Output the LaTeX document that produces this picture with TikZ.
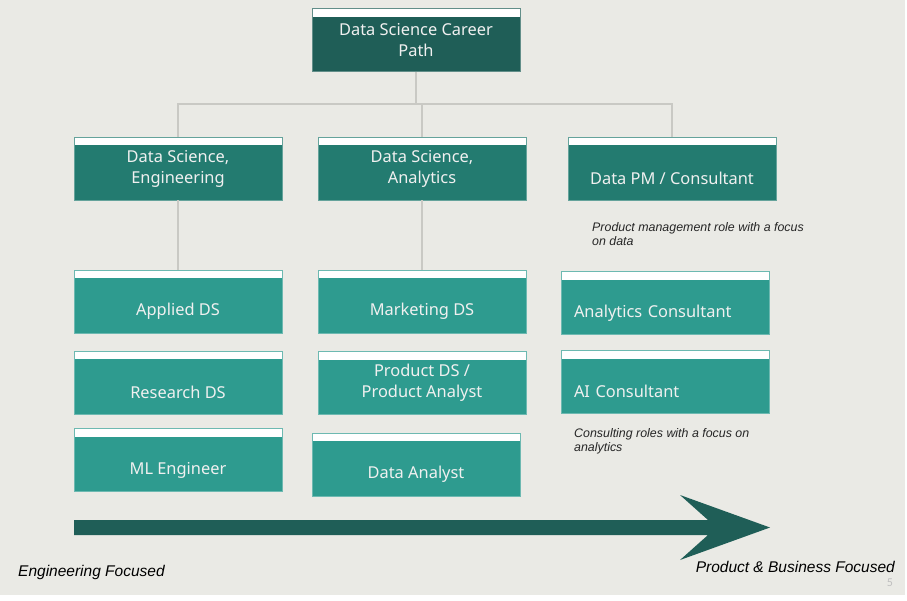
\documentclass[tikz,border=0pt]{standalone}
\usepackage{fontspec}
\setmainfont{Noto Sans}
\newfontfamily\notefont{Liberation Sans}
\newfontfamily\numfont{Carlito}
\definecolor{slidebg}{HTML}{EAEAE5}
\definecolor{darkteal}{HTML}{1F5E57}
\definecolor{midteal}{HTML}{237B70}
\definecolor{liteteal}{HTML}{2E9B8F}
\definecolor{wireclr}{HTML}{C9C9C4}
\tikzset{
	role/.style={rectangle,minimum width=208pt,minimum height=63pt,inner sep=3pt,
		align=center,text=white!94!black,font=\fontsize{16.4}{21}\selectfont,line width=0.8pt,
		path picture={\fill[white] (path picture bounding box.north west) rectangle
			([yshift=-8pt]path picture bounding box.north east);}},
	toprole/.style={role,fill=darkteal,draw=darkteal!70!white},
	headrole/.style={role,fill=midteal,draw=midteal!70!white},
	jobrole/.style={role,fill=liteteal,draw=liteteal!70!white},
	oneline/.style={text height=32pt},
	leftline/.style={oneline,text width=182pt,align=left},
	wire/.style={wireclr,line width=1.2pt},
	note/.style={font=\notefont\itshape\fontsize{12.4}{14}\selectfont,align=left,anchor=north west,inner sep=0pt,text=black!85}
}
\begin{document}
\begin{tikzpicture}[x=1pt,y=-1pt]
	\fill[white] (0,0) rectangle (907,600);
	\fill[slidebg] (0,0) rectangle (905,595);
	\useasboundingbox (0,0) rectangle (907,600);
	% boxes
	\node[toprole] (top) at (416,40) {Data Science Career\\Path};
	\node[headrole] (eng) at (178,168.5) {Data Science,\\Engineering};
	\node[headrole] (ana) at (422,168.5) {Data Science,\\Analytics};
	\node[headrole,oneline] (pm) at (672,168.5) {Data PM / Consultant};
	\node[jobrole,oneline] (applied) at (178,301.5) {Applied DS};
	\node[jobrole,oneline] (mkt) at (422,301.5) {Marketing DS};
	\node[jobrole,leftline] (acons) at (665,303) {Analytics Consultant};
	\node[jobrole,oneline] (research) at (178,382.5) {Research DS};
	\node[jobrole] (prod) at (422,383) {Product DS /\\Product Analyst};
	\node[jobrole,leftline] (aicons) at (665,382) {AI Consultant};
	\node[jobrole,oneline] (ml) at (178,460) {ML Engineer};
	\node[jobrole,oneline] (dan) at (416,464.5) {Data Analyst};
	% tree
	\coordinate (bus) at (416,104);
	\draw[wire] (top.south)--(bus);
	\draw[wire] (eng.north)|-(bus)-|(pm.north);
	\draw[wire] (ana.north)--(ana.north|-bus);
	\draw[wire] (eng.south)--(applied.north);
	\draw[wire] (ana.south)--(mkt.north);
	% notes
	\node[note] (pmnote) at (592,222) {Product management role with a focus\\on data};
	\node[note] (consnote) at (574,428) {Consulting roles with a focus on\\analytics};
	% arrow
	\fill[darkteal] (74,520)--(708,520)--(680,495)--(770,527.5)--(680,560)--(708,535)--(74,535)--cycle;
	\node[font=\notefont\itshape\fontsize{15.5}{17}\selectfont,anchor=west,inner sep=0pt] (engfoc) at (18,572.5) {Engineering Focused};
	\node[font=\notefont\itshape\fontsize{15.5}{17}\selectfont,anchor=east,inner sep=0pt] (prodfoc) at (895,567) {Product \& Business Focused};
	\node[font=\numfont\fontsize{12}{14}\selectfont,text=black!25,inner sep=0pt] (pagenum) at (890,583) {5};
\end{tikzpicture}
\end{document}
